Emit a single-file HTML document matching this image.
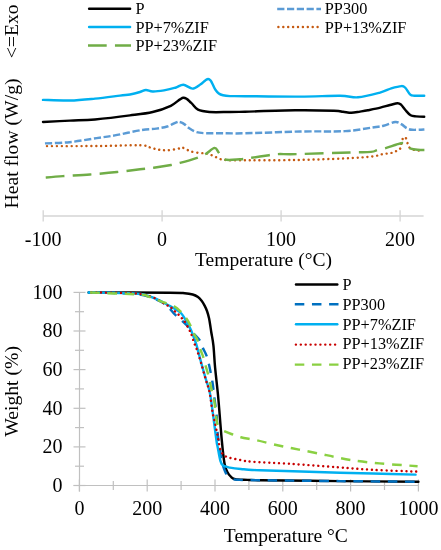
<!DOCTYPE html>
<html><head><meta charset="utf-8"><style>
html,body{margin:0;padding:0;background:#fff;}
svg{display:block;}
text{font-family:"Liberation Serif","Times New Roman",serif;fill:#000;}
</style></head><body>
<svg width="441" height="550" viewBox="0 0 441 550">
<rect width="441" height="550" fill="#fff"/>
<line x1="43.2" y1="216" x2="423.6" y2="216" stroke="#D4D4D4" stroke-width="1.3" stroke-linecap="butt"/>
<line x1="43.2" y1="210.3" x2="43.2" y2="221.4" stroke="#D4D4D4" stroke-width="1.3" stroke-linecap="butt"/>
<line x1="162.1" y1="210.3" x2="162.1" y2="221.4" stroke="#D4D4D4" stroke-width="1.3" stroke-linecap="butt"/>
<line x1="281.1" y1="210.3" x2="281.1" y2="221.4" stroke="#D4D4D4" stroke-width="1.3" stroke-linecap="butt"/>
<line x1="400.1" y1="210.3" x2="400.1" y2="221.4" stroke="#D4D4D4" stroke-width="1.3" stroke-linecap="butt"/>
<path d="M43.0 122.0 C47.5 121.8 61.3 121.0 70.0 120.6 C78.7 120.2 85.0 120.4 95.0 119.5 C105.0 118.6 120.4 116.7 130.0 115.4 C139.6 114.2 145.9 113.6 152.7 112.0 C159.5 110.4 165.7 108.2 170.8 105.8 C175.9 103.4 179.9 98.2 183.3 97.7 C186.7 97.2 188.8 100.9 191.2 102.9 C193.6 104.9 195.0 108.2 198.0 109.7 C201.0 111.2 204.1 111.6 209.4 112.0 C214.7 112.4 224.1 112.0 230.0 112.0 C235.9 112.0 234.2 112.0 245.0 111.7 C255.8 111.4 280.2 110.5 295.0 110.3 C309.8 110.1 326.0 110.5 334.0 110.8 C342.0 111.0 340.1 111.5 343.0 111.8 C345.9 112.1 348.6 112.8 351.4 112.8 C354.2 112.8 357.3 112.0 360.0 111.6 C362.7 111.2 364.4 111.0 367.8 110.3 C371.2 109.6 376.7 108.5 380.4 107.6 C384.1 106.7 387.1 105.7 390.0 105.0 C392.9 104.3 395.7 103.3 397.5 103.2 C399.3 103.1 399.6 103.4 401.0 104.6 C402.4 105.8 404.0 108.5 405.6 110.3 C407.2 112.1 408.9 114.3 410.6 115.3 C412.3 116.3 413.7 116.2 416.0 116.4 C418.3 116.6 422.8 116.7 424.2 116.7" stroke="#000000" stroke-width="2.45" fill="none" stroke-linejoin="round" stroke-linecap="round"/>
<path d="M44.5 143.4 C48.7 143.2 60.8 143.1 69.5 142.2 C78.2 141.3 89.2 139.2 96.7 138.1 C104.2 137.0 107.3 136.8 114.8 135.4 C122.3 134.1 134.9 131.1 141.8 130.0 C148.7 128.9 152.1 129.2 156.3 128.6 C160.5 128.0 163.9 127.5 167.2 126.5 C170.5 125.5 174.3 123.1 176.3 122.3 C178.3 121.5 177.8 121.6 179.0 121.8 C180.2 122.0 181.9 122.5 183.6 123.6 C185.3 124.6 186.9 126.7 189.0 128.1 C191.1 129.5 193.6 131.2 196.3 132.1 C199.0 132.9 201.4 133.0 205.3 133.2 C209.2 133.4 213.4 133.2 220.0 133.2 C226.6 133.2 231.7 133.6 245.0 133.3 C258.3 133.0 283.3 131.9 300.0 131.5 C316.7 131.1 332.9 131.8 345.0 131.1 C357.1 130.4 366.3 128.4 372.7 127.5 C379.1 126.6 379.9 126.6 383.6 125.7 C387.4 124.8 392.2 122.3 395.2 122.0 C398.1 121.7 399.4 123.1 401.3 124.1 C403.2 125.1 404.9 127.2 406.7 128.2 C408.5 129.1 409.2 129.6 412.2 129.8 C415.1 130.0 422.4 129.6 424.4 129.5" stroke="#5B9BD5" stroke-width="2.45" fill="none" stroke-linejoin="round" stroke-linecap="butt" stroke-dasharray="7.2 2.6" stroke-dashoffset="-0.6"/>
<path d="M43.0 99.9 C47.5 100.0 61.3 100.7 70.0 100.5 C78.7 100.3 86.7 99.4 95.0 98.6 C103.3 97.8 114.2 96.3 120.0 95.6 C125.8 94.9 126.7 95.1 130.0 94.5 C133.3 93.9 137.3 92.8 140.0 92.0 C142.7 91.2 143.8 90.1 145.9 90.0 C148.0 89.9 149.7 91.4 152.7 91.5 C155.7 91.6 160.2 91.0 164.0 90.4 C167.8 89.8 172.2 88.7 175.4 87.7 C178.6 86.8 180.5 84.6 183.3 84.7 C186.1 84.8 189.6 88.6 192.4 88.6 C195.2 88.6 198.2 85.9 200.3 84.5 C202.5 83.1 204.0 81.3 205.3 80.4 C206.6 79.5 207.3 78.9 208.2 78.9 C209.1 78.9 209.8 79.6 210.6 80.6 C211.4 81.6 212.2 83.4 213.0 85.0 C213.8 86.6 214.6 88.6 215.6 90.0 C216.6 91.4 217.6 92.7 218.8 93.6 C220.0 94.5 221.1 94.9 223.0 95.3 C224.9 95.7 226.3 95.9 230.0 96.1 C233.7 96.2 233.3 96.1 245.0 96.2 C256.7 96.3 284.2 96.7 300.0 96.6 C315.8 96.5 330.3 95.7 340.0 95.8 C349.7 95.9 351.3 97.8 358.0 97.3 C364.7 96.8 374.4 94.1 380.0 92.6 C385.6 91.1 387.7 89.5 391.3 88.4 C394.9 87.3 399.1 86.2 401.5 86.1 C403.9 86.0 404.1 86.6 405.5 88.0 C406.9 89.4 408.6 93.0 410.0 94.3 C411.4 95.6 411.6 95.5 414.0 95.7 C416.4 95.9 422.5 95.7 424.2 95.7" stroke="#00B0F0" stroke-width="2.45" fill="none" stroke-linejoin="round" stroke-linecap="round"/>
<path d="M44.5 146.1 C53.8 146.1 84.1 146.2 100.0 146.0 C115.9 145.8 131.8 145.0 140.0 145.2 C148.2 145.4 146.1 146.5 149.1 147.2 C152.1 147.9 155.1 149.1 158.1 149.6 C161.1 150.1 163.9 150.5 167.2 150.3 C170.5 150.2 175.5 149.1 178.1 148.7 C180.7 148.3 180.5 147.2 182.6 147.7 C184.7 148.1 187.9 150.5 190.8 151.4 C193.7 152.3 197.5 152.7 200.0 153.0 C202.5 153.3 204.2 153.0 206.0 153.3 C207.8 153.6 209.3 154.3 211.0 155.0 C212.7 155.7 214.5 156.5 216.0 157.2 C217.5 157.9 218.5 158.5 220.0 159.0 C221.5 159.5 221.7 159.8 225.0 160.0 C228.3 160.2 228.3 160.2 240.0 160.2 C251.7 160.2 277.5 160.3 295.0 160.0 C312.5 159.7 332.2 159.0 345.0 158.4 C357.8 157.8 365.8 157.2 372.0 156.5 C378.2 155.8 378.8 154.9 382.0 154.3 C385.2 153.7 389.1 153.4 391.4 152.9 C393.7 152.4 394.5 152.0 395.9 151.3 C397.3 150.7 399.0 150.1 399.9 149.0 C400.8 147.9 400.6 146.3 401.0 144.8 C401.4 143.3 401.7 141.0 402.2 139.8 C402.7 138.6 403.4 138.0 404.0 137.6 C404.6 137.2 405.1 136.8 405.7 137.6 C406.2 138.4 406.7 141.0 407.3 142.6 C407.9 144.2 408.2 146.0 409.2 147.2 C410.2 148.4 412.0 149.1 413.5 149.7 C415.0 150.3 416.7 150.6 418.3 150.6 C419.9 150.6 422.3 149.8 423.1 149.7" stroke="#C55A11" stroke-width="2.45" fill="none" stroke-linejoin="round" stroke-linecap="round" stroke-dasharray="0.01 4.89" stroke-dashoffset="2.2"/>
<path d="M45.0 177.7 C48.0 177.4 55.5 176.6 63.0 176.1 C70.5 175.6 81.0 175.2 90.0 174.5 C99.0 173.8 108.7 172.9 117.0 172.0 C125.3 171.1 133.9 170.0 140.0 169.3 C146.1 168.6 148.5 168.5 153.7 167.8 C158.9 167.1 166.6 165.8 171.0 165.0 C175.4 164.2 175.8 164.1 180.0 162.9 C184.2 161.8 192.1 159.6 196.3 158.1 C200.5 156.6 202.2 155.9 205.3 154.2 C208.4 152.5 212.3 148.2 214.6 147.9 C216.8 147.7 217.1 150.8 218.8 152.7 C220.5 154.6 221.4 158.4 224.9 159.5 C228.4 160.6 235.6 159.5 240.0 159.2 C244.4 158.9 246.7 158.5 251.5 157.8 C256.3 157.1 264.6 155.8 269.0 155.2 C273.4 154.6 273.3 154.3 278.0 154.1 C282.7 153.9 285.0 154.4 297.0 154.1 C309.0 153.8 337.7 152.9 350.0 152.5 C362.3 152.1 366.4 152.3 371.0 151.9 C375.6 151.5 374.9 150.6 377.5 149.9 C380.1 149.2 383.2 148.8 386.3 147.9 C389.4 147.1 393.1 145.6 395.9 144.8 C398.7 144.0 401.3 142.9 403.3 143.1 C405.3 143.3 406.8 145.1 408.0 146.0 C409.2 146.9 409.2 148.0 410.8 148.6 C412.4 149.2 415.3 149.5 417.6 149.7 C419.9 149.9 423.3 149.9 424.4 149.9" stroke="#70AD47" stroke-width="2.45" fill="none" stroke-linejoin="round" stroke-linecap="butt" stroke-dasharray="18.7 8.25" stroke-dashoffset="-0.9"/>
<line x1="79.5" y1="292.3" x2="79.5" y2="491.5" stroke="#C0C0C0" stroke-width="1.2" stroke-linecap="butt"/>
<line x1="73.6" y1="485.5" x2="418.4" y2="485.5" stroke="#C0C0C0" stroke-width="1.2" stroke-linecap="butt"/>
<line x1="73.5" y1="485.5" x2="85.5" y2="485.5" stroke="#C0C0C0" stroke-width="1.2" stroke-linecap="butt"/>
<line x1="75" y1="466.2" x2="84" y2="466.2" stroke="#C0C0C0" stroke-width="1.2" stroke-linecap="butt"/>
<line x1="73.5" y1="446.9" x2="85.5" y2="446.9" stroke="#C0C0C0" stroke-width="1.2" stroke-linecap="butt"/>
<line x1="75" y1="427.6" x2="84" y2="427.6" stroke="#C0C0C0" stroke-width="1.2" stroke-linecap="butt"/>
<line x1="73.5" y1="408.3" x2="85.5" y2="408.3" stroke="#C0C0C0" stroke-width="1.2" stroke-linecap="butt"/>
<line x1="75" y1="388.9" x2="84" y2="388.9" stroke="#C0C0C0" stroke-width="1.2" stroke-linecap="butt"/>
<line x1="73.5" y1="369.6" x2="85.5" y2="369.6" stroke="#C0C0C0" stroke-width="1.2" stroke-linecap="butt"/>
<line x1="75" y1="350.3" x2="84" y2="350.3" stroke="#C0C0C0" stroke-width="1.2" stroke-linecap="butt"/>
<line x1="73.5" y1="331.0" x2="85.5" y2="331.0" stroke="#C0C0C0" stroke-width="1.2" stroke-linecap="butt"/>
<line x1="75" y1="311.7" x2="84" y2="311.7" stroke="#C0C0C0" stroke-width="1.2" stroke-linecap="butt"/>
<line x1="73.5" y1="292.4" x2="85.5" y2="292.4" stroke="#C0C0C0" stroke-width="1.2" stroke-linecap="butt"/>
<line x1="79.4" y1="479.5" x2="79.4" y2="491.5" stroke="#C0C0C0" stroke-width="1.2" stroke-linecap="butt"/>
<line x1="113.3" y1="481" x2="113.3" y2="490" stroke="#C0C0C0" stroke-width="1.2" stroke-linecap="butt"/>
<line x1="147.2" y1="479.5" x2="147.2" y2="491.5" stroke="#C0C0C0" stroke-width="1.2" stroke-linecap="butt"/>
<line x1="181.1" y1="481" x2="181.1" y2="490" stroke="#C0C0C0" stroke-width="1.2" stroke-linecap="butt"/>
<line x1="215.0" y1="479.5" x2="215.0" y2="491.5" stroke="#C0C0C0" stroke-width="1.2" stroke-linecap="butt"/>
<line x1="248.9" y1="481" x2="248.9" y2="490" stroke="#C0C0C0" stroke-width="1.2" stroke-linecap="butt"/>
<line x1="282.8" y1="479.5" x2="282.8" y2="491.5" stroke="#C0C0C0" stroke-width="1.2" stroke-linecap="butt"/>
<line x1="316.7" y1="481" x2="316.7" y2="490" stroke="#C0C0C0" stroke-width="1.2" stroke-linecap="butt"/>
<line x1="350.6" y1="479.5" x2="350.6" y2="491.5" stroke="#C0C0C0" stroke-width="1.2" stroke-linecap="butt"/>
<line x1="384.5" y1="481" x2="384.5" y2="490" stroke="#C0C0C0" stroke-width="1.2" stroke-linecap="butt"/>
<line x1="418.4" y1="479.5" x2="418.4" y2="491.5" stroke="#C0C0C0" stroke-width="1.2" stroke-linecap="butt"/>
<path d="M88.6 292.5 C102.2 292.5 154.0 292.6 170.0 292.7 C186.0 292.8 180.9 292.9 184.7 293.2 C188.5 293.5 190.5 293.9 192.7 294.5 C194.9 295.1 196.5 296.0 198.0 297.1 C199.5 298.2 200.7 299.6 201.8 301.0 C202.9 302.4 203.7 303.9 204.6 305.6 C205.5 307.3 206.2 308.8 207.0 311.0 C207.8 313.2 208.4 315.2 209.1 318.6 C209.8 322.1 210.5 327.2 211.2 331.7 C211.9 336.2 212.8 339.4 213.4 345.4 C214.1 351.4 214.3 359.4 215.1 367.7 C215.9 376.0 217.3 387.5 218.0 395.0 C218.7 402.5 218.9 405.1 219.5 412.7 C220.1 420.3 221.0 431.9 221.8 440.4 C222.6 448.9 223.6 458.3 224.5 463.5 C225.4 468.7 226.1 469.4 227.2 471.7 C228.3 474.0 229.9 475.9 231.3 477.1 C232.7 478.4 232.7 478.7 235.4 479.2 C238.1 479.7 243.5 479.7 247.6 479.9 C251.7 480.1 244.6 480.0 260.0 480.2 C275.4 480.4 313.6 480.9 340.0 481.1 C366.4 481.4 405.3 481.6 418.4 481.7" stroke="#000000" stroke-width="2.45" fill="none" stroke-linejoin="round" stroke-linecap="round"/>
<path d="M88.6 292.5 C95.5 292.7 119.8 292.8 130.0 293.5 C140.2 294.2 144.2 295.2 150.0 297.0 C155.8 298.8 161.7 302.0 165.0 304.0 C168.3 306.0 168.3 307.0 170.0 308.8 C171.7 310.6 173.0 312.7 175.1 314.7 C177.2 316.7 180.2 319.0 182.3 321.0 C184.4 323.0 186.0 324.4 187.9 326.5 C189.8 328.6 191.6 331.2 193.6 333.5 C195.6 335.8 198.3 338.1 199.8 340.5 C201.3 342.9 201.6 345.1 202.7 347.6 C203.8 350.2 205.6 353.0 206.6 355.8 C207.6 358.6 208.2 361.6 208.9 364.3 C209.6 367.0 210.0 369.4 210.6 372.2 C211.2 375.0 211.8 378.5 212.3 381.3 C212.8 384.1 213.1 386.4 213.4 389.2 C213.8 392.0 213.9 393.7 214.4 398.0 C214.9 402.3 216.1 409.1 216.6 415.0 C217.1 420.9 217.2 428.1 217.7 433.6 C218.2 439.1 218.8 443.3 219.5 448.0 C220.2 452.7 221.1 458.1 222.0 462.0 C222.9 465.9 224.2 469.4 225.2 471.7 C226.2 474.0 227.5 475.3 228.0 476.0" stroke="#0070C0" stroke-width="2.45" fill="none" stroke-linejoin="round" stroke-linecap="butt" stroke-dasharray="9.5 7.65" stroke-dashoffset="0.4"/>
<path d="M228.0 476.0 C228.8 476.5 230.8 478.6 232.7 479.2 C234.6 479.8 234.9 479.7 239.5 479.9 C244.1 480.1 243.2 480.0 260.0 480.2 C276.8 480.4 313.6 480.9 340.0 481.1 C366.4 481.4 405.3 481.6 418.4 481.7" stroke="#0070C0" stroke-width="2.45" fill="none" stroke-linejoin="round" stroke-linecap="butt" stroke-dasharray="9.5 7.65" stroke-dashoffset="10.7"/>
<path d="M88.6 292.5 C95.5 292.6 120.8 292.9 130.0 293.2 C139.2 293.5 139.1 293.5 143.6 294.5 C148.1 295.5 153.1 297.6 157.2 299.3 C161.3 301.1 164.9 303.3 168.0 305.0 C171.1 306.7 173.8 308.1 176.0 309.5 C178.2 310.9 179.9 312.1 181.3 313.5 C182.7 314.9 183.2 316.0 184.5 318.1 C185.8 320.2 187.7 323.3 189.1 326.1 C190.5 328.9 191.8 331.9 193.0 335.1 C194.2 338.3 195.3 340.9 196.6 345.4 C197.9 349.9 199.5 356.4 201.0 362.0 C202.5 367.6 204.4 374.1 205.8 379.0 C207.2 383.9 208.4 385.9 209.6 391.5 C210.8 397.1 211.7 404.6 212.8 412.7 C213.9 420.8 215.6 434.2 216.4 440.0 C217.2 445.8 217.0 443.7 217.7 447.2 C218.4 450.7 219.5 457.7 220.4 460.8 C221.3 463.9 221.5 464.5 223.1 465.6 C224.7 466.7 226.9 467.0 229.9 467.6 C232.9 468.2 235.8 468.6 240.8 469.0 C245.8 469.4 243.5 469.7 260.0 470.3 C276.5 470.9 321.2 472.2 340.0 472.7 C358.8 473.2 360.4 473.2 373.0 473.5 C385.6 473.8 408.4 474.4 415.5 474.6" stroke="#00B0F0" stroke-width="2.45" fill="none" stroke-linejoin="round" stroke-linecap="round"/>
<path d="M88.6 292.5 C96.2 292.6 123.2 292.6 134.0 293.4 C144.8 294.2 147.8 295.6 153.1 297.5 C158.4 299.4 163.1 303.1 166.0 304.7 C168.9 306.3 169.3 306.1 170.6 307.1 C171.9 308.1 172.8 309.4 174.0 310.5 C175.2 311.6 176.5 312.5 177.6 313.6 C178.7 314.7 179.7 316.1 180.8 317.3 C181.9 318.5 183.0 319.0 184.4 321.0 C185.8 323.0 187.9 327.3 189.1 329.5 C190.2 331.7 190.5 331.7 191.3 334.0 C192.2 336.3 193.3 340.6 194.2 343.1 C195.1 345.6 195.5 345.7 196.6 348.8 C197.7 351.9 199.3 357.0 200.8 362.0 C202.3 367.0 204.2 374.1 205.6 379.0 C207.0 383.9 208.2 385.9 209.4 391.5 C210.6 397.1 211.8 407.9 212.6 412.7 C213.4 417.4 213.5 416.1 214.3 420.0 C215.2 423.9 216.7 431.3 217.7 436.3 C218.7 441.3 219.3 446.7 220.4 449.9 C221.5 453.1 222.9 454.3 224.5 455.6 C226.1 456.9 227.2 457.1 229.9 457.8 C232.6 458.6 237.0 459.4 240.8 460.1 C244.7 460.8 244.7 461.2 253.0 461.8 C261.3 462.4 276.7 463.0 290.8 463.9 C304.9 464.8 324.1 466.3 337.8 467.3 C351.5 468.3 360.0 469.2 373.1 469.9 C386.2 470.6 409.3 471.3 416.5 471.6" stroke="#C80000" stroke-width="2.45" fill="none" stroke-linejoin="round" stroke-linecap="round" stroke-dasharray="0.01 4.89" stroke-dashoffset="2.0"/>
<path d="M88.60 292.50 C97.08 292.83 129.53 293.82 139.50 294.50 C149.47 295.18 145.45 295.68 148.40 296.60 C151.35 297.52 154.48 298.98 157.20 300.00 C159.92 301.02 161.82 301.62 164.70 302.70 C167.58 303.78 171.92 305.10 174.50 306.50 C177.08 307.90 178.30 309.20 180.20 311.10 C182.10 313.00 184.23 315.58 185.90 317.90 C187.57 320.22 188.92 322.42 190.20 325.00 C191.48 327.58 192.47 331.07 193.60 333.40 C194.73 335.73 195.87 336.32 197.00 339.00 C198.13 341.68 199.37 346.52 200.40 349.50 C201.43 352.48 202.35 354.25 203.20 356.90 C204.05 359.55 204.73 362.67 205.50 365.40 C206.27 368.13 207.05 370.47 207.80 373.30 C208.55 376.13 209.35 379.55 210.00 382.40 C210.65 385.25 210.97 387.13 211.70 390.40 C212.43 393.67 213.63 397.40 214.40 402.00 C215.17 406.60 215.77 414.17 216.30 418.00 C216.83 421.83 217.05 423.20 217.60 425.00 C218.15 426.80 218.70 427.87 219.60 428.80" stroke="#8AD042" stroke-width="2.45" fill="none" stroke-linejoin="round" stroke-linecap="butt" stroke-dasharray="9.5 7.65" stroke-dashoffset="-1.70"/>
<path d="M219.60 428.80 C220.50 429.73 221.05 429.73 223.00 430.60 C224.95 431.47 228.33 432.90 231.30 434.00 C234.27 435.10 236.50 436.13 240.80 437.20 C245.10 438.27 250.80 439.02 257.10 440.40 C263.40 441.78 271.62 443.97 278.60 445.50 C285.58 447.03 292.20 448.23 299.00 449.60 C305.80 450.97 313.62 452.52 319.40 453.70 C325.18 454.88 328.33 455.62 333.70 456.70 C339.07 457.78 343.95 459.08 351.60 460.20 C359.25 461.32 368.60 462.40 379.60 463.40 C390.60 464.40 411.27 465.73 417.60 466.20" stroke="#8AD042" stroke-width="2.45" fill="none" stroke-linejoin="round" stroke-linecap="butt" stroke-dasharray="9.5 7.65" stroke-dashoffset="217.63"/>
<line x1="89.1" y1="8.7" x2="130.1" y2="8.7" stroke="#000000" stroke-width="2.45" stroke-linecap="round"/>
<line x1="89.1" y1="26.9" x2="130.1" y2="26.9" stroke="#00B0F0" stroke-width="2.45" stroke-linecap="round"/>
<line x1="88" y1="45.4" x2="131" y2="45.4" stroke="#70AD47" stroke-width="2.45" stroke-linecap="butt" stroke-dasharray="18.7 8.25"/>
<line x1="277.2" y1="8.9" x2="321" y2="8.9" stroke="#5B9BD5" stroke-width="2.45" stroke-linecap="butt" stroke-dasharray="7.2 2.6"/>
<line x1="278.4" y1="26.9" x2="321" y2="26.9" stroke="#C55A11" stroke-width="2.45" stroke-linecap="round" stroke-dasharray="0.01 4.89"/>
<line x1="296" y1="284.5" x2="337.3" y2="284.5" stroke="#000000" stroke-width="2.45" stroke-linecap="round"/>
<line x1="294.8" y1="304.3" x2="338.5" y2="304.3" stroke="#0070C0" stroke-width="2.45" stroke-linecap="butt" stroke-dasharray="9.5 7.65"/>
<line x1="296" y1="324.3" x2="337.3" y2="324.3" stroke="#00B0F0" stroke-width="2.45" stroke-linecap="round"/>
<line x1="295.9" y1="344.6" x2="338.5" y2="344.6" stroke="#C80000" stroke-width="2.45" stroke-linecap="round" stroke-dasharray="0.01 4.89"/>
<line x1="294.8" y1="364.6" x2="338.5" y2="364.6" stroke="#8AD042" stroke-width="2.45" stroke-linecap="butt" stroke-dasharray="9.5 7.65"/>
<text x="18.3" y="31.3" font-size="19.7" text-anchor="middle" transform="rotate(-90 18.3 31.3)">&lt;=Exo</text>
<text x="18.3" y="143.5" font-size="19.7" text-anchor="middle" transform="rotate(-90 18.3 143.5)">Heat flow (W/g)</text>
<text x="135.4" y="13.8" font-size="16.3" text-anchor="start">P</text>
<text x="135.4" y="32.5" font-size="16.3" text-anchor="start">PP+7%ZIF</text>
<text x="135.4" y="50.5" font-size="16.3" text-anchor="start">PP+23%ZIF</text>
<text x="324.8" y="13.8" font-size="16.3" text-anchor="start">PP300</text>
<text x="324.8" y="32.5" font-size="16.3" text-anchor="start">PP+13%ZIF</text>
<text x="43.2" y="245.5" font-size="20" text-anchor="middle">-100</text>
<text x="162.1" y="245.5" font-size="20" text-anchor="middle">0</text>
<text x="281.1" y="245.5" font-size="20" text-anchor="middle">100</text>
<text x="400.1" y="245.5" font-size="20" text-anchor="middle">200</text>
<text x="263.5" y="265.9" font-size="19.5" text-anchor="middle">Temperature (°C)</text>
<text x="18" y="391.4" font-size="19.7" text-anchor="middle" transform="rotate(-90 18 391.4)">Weight (%)</text>
<text x="62.5" y="491.9" font-size="20" text-anchor="end">0</text>
<text x="62.5" y="453.3" font-size="20" text-anchor="end">20</text>
<text x="62.5" y="414.7" font-size="20" text-anchor="end">40</text>
<text x="62.5" y="376.0" font-size="20" text-anchor="end">60</text>
<text x="62.5" y="337.4" font-size="20" text-anchor="end">80</text>
<text x="62.5" y="298.8" font-size="20" text-anchor="end">100</text>
<text x="79.4" y="514.9" font-size="20" text-anchor="middle">0</text>
<text x="147.2" y="514.9" font-size="20" text-anchor="middle">200</text>
<text x="215.0" y="514.9" font-size="20" text-anchor="middle">400</text>
<text x="282.8" y="514.9" font-size="20" text-anchor="middle">600</text>
<text x="350.6" y="514.9" font-size="20" text-anchor="middle">800</text>
<text x="418.4" y="514.9" font-size="20" text-anchor="middle">1000</text>
<text x="285.8" y="541.9" font-size="19.5" text-anchor="middle">Temperature °C</text>
<text x="342.5" y="289.7" font-size="16.3" text-anchor="start">P</text>
<text x="342.5" y="309.7" font-size="16.3" text-anchor="start">PP300</text>
<text x="342.5" y="329.6" font-size="16.3" text-anchor="start">PP+7%ZIF</text>
<text x="342.5" y="349.3" font-size="16.3" text-anchor="start">PP+13%ZIF</text>
<text x="342.5" y="369" font-size="16.3" text-anchor="start">PP+23%ZIF</text>
</svg>
</body></html>
